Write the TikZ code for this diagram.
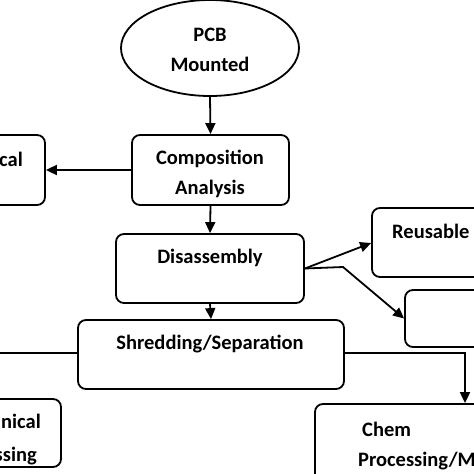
\documentclass[tikz,border=0pt]{standalone}
\usepackage{fontspec}
\setmainfont{Carlito}
\usetikzlibrary{arrows.meta,shapes.geometric,positioning}
\begin{document}
\begin{tikzpicture}[x=1pt,y=-1pt,
  every node/.style={font=\fontsize{20.5}{30}\selectfont\bfseries},
  box/.style={draw,line width=1.8pt,rounded corners=8pt,inner sep=0pt},
  lbl/.style={inner sep=0pt,align=center},
  conn/.style={line width=1.8pt},
  arr/.style={conn,-{Triangle[length=11pt,width=10pt]}}]
\useasboundingbox (0,0) rectangle (474,474);
\clip (0,0) rectangle (474,474);
% boxes
\node[draw,line width=1.8pt,ellipse,inner sep=0pt,minimum width=178pt,minimum height=96pt] (ell) at (210,48) {};
\node[box,minimum width=157pt,minimum height=70pt] (comp) at (210.5,170) {};
\node[box,minimum width=70pt,minimum height=70pt] (left) at (10,170) {};
\node[box,minimum width=188pt,minimum height=69pt] (dis) at (210,268.5) {};
\node[box,minimum width=130pt,minimum height=69pt] (reus) at (437,242.5) {};
\node[box,minimum width=110pt,minimum height=57pt] (box2) at (460,318.5) {};
\node[box,minimum width=266pt,minimum height=69pt] (shred) at (211,354.5) {};
\node[box,minimum width=90pt,minimum height=68pt] (mech) at (16,433) {};
\node[box,minimum width=200pt,minimum height=90pt] (chem) at (415,449) {};
% labels
\node[lbl] (elllbl) at (210,50) {PCB\\Mounted};
\node[lbl] (complbl) at (210,174) {Composition\\Analysis};
\node[lbl,anchor=base east] (leftlbl) at (23,166) {cal};
\node[lbl] (dislbl) at (210,258) {Disassembly};
\node[lbl,anchor=base west] (reuslbl) at (392,238) {Reusable};
\node[lbl] (shredlbl) at (210,344) {Shredding/Separation};
\node[lbl,anchor=base east] (mechlbl1) at (41,428) {nical};
\node[lbl,anchor=base east] (mechlbl2) at (37,461) {ssing};
\node[lbl,anchor=base west] (chemlbl1) at (362,436) {Chem};
\node[lbl,anchor=base west] (chemlbl2) at (358,466) {Processing/M};
% connectors
\coordinate (split) at (343,267);
\coordinate (lend) at (-10,353);
\coordinate (rturn) at (465,353);
\draw[arr] (ell.south) -- (comp.north);
\draw[arr] (comp.west) -- (left.east);
\draw[arr] (comp.south) -- (dis.north);
\draw[arr] (dis.east) -- (reus.west |- 0,243);
\draw[arr] (dis.east) -- (split) -- (box2.west);
\draw[arr] (dis.south) -- (shred.north);
\draw[conn] (shred.west |- 0,353) -- (lend);
\draw[arr] (shred.east |- 0,353) -- (rturn) -- (rturn |- chem.north);
\end{tikzpicture}
\end{document}
